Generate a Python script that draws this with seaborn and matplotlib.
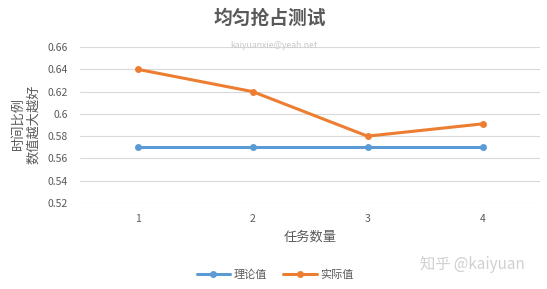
import matplotlib
matplotlib.use("Agg")
import matplotlib.pyplot as plt
import seaborn as sns
import pandas as pd
from matplotlib.lines import Line2D

tasks = [1, 2, 3, 4]
theory = [0.57, 0.57, 0.57, 0.57]
actual = [0.64, 0.62, 0.58, 0.591]
series_names = ["理论值", "实际值"]
yticks = [0.52, 0.54, 0.56, 0.58, 0.6, 0.62, 0.64, 0.66]
ytick_labels = ["0.52", "0.54", "0.56", "0.58", "0.6", "0.62", "0.64", "0.66"]

df = pd.DataFrame({
    "任务数量": tasks * 2,
    "值": theory + actual,
    "系列": [series_names[0]] * 4 + [series_names[1]] * 4,
})

sns.set_style("white")
plt.rcParams['font.family'] = ['Noto Sans CJK SC', 'DejaVu Sans']

fig = plt.figure(figsize=(5.47, 2.89), dpi=100)
ax = fig.add_axes([80/547, 1-203/289, 460/547, 156/289])

palette = {"理论值": "#5B9BD5", "实际值": "#ED7D31"}
sns.lineplot(data=df, x="任务数量", y="值", hue="系列", palette=palette,
             marker="o", markersize=5, markeredgewidth=0, linewidth=2.2,
             ax=ax, legend=False)

ax.set_xlim(0.5, 4.5)
ax.set_ylim(0.52, 0.66)
ax.set_xticks(tasks)
ax.set_xticklabels([str(t) for t in tasks])
ax.set_yticks(yticks)
ax.set_yticklabels(ytick_labels)
ax.grid(axis="y", color="#D9D9D9", linewidth=0.8)
ax.set_axisbelow(True)
for s in ax.spines.values():
    s.set_visible(False)
ax.tick_params(axis="both", length=0, labelsize=7.5, colors="#595959")
ax.tick_params(axis="y", pad=9)
ax.tick_params(axis="x", pad=8)

ax.set_xlabel("任务数量", fontsize=9.5, color="#595959", labelpad=5)
ax.set_ylabel("")
fig.text(26/547, 1 - 124/289, "时间比例\n数值越大越好", rotation=90, ha="center", va="center",
         fontsize=9.5, color="#595959", linespacing=1.3, multialignment="center")

fig.text(270/547, 1 - 18/289, "均匀抢占测试", ha="center", va="center",
         fontsize=13.5, color="#595959", fontweight="bold")
fig.text(274/547, 1 - 46/289, "kaiyuanxie@yeah.net", ha="center", va="center",
         fontsize=6.3, color="#C8C8C8")
fig.text(472/547, 1 - 264/289, "知乎 @kaiyuan", ha="center", va="center",
         fontsize=11, color="#D0D0D0")

handles = [Line2D([], [], color=palette[n], marker="o", markersize=5, markeredgewidth=0, linewidth=2.2)
           for n in series_names]
fig.legend(handles, series_names, loc="center", bbox_to_anchor=(275/547, 1 - 275/289),
           ncol=2, frameon=False, fontsize=8, handlelength=3, columnspacing=1.5,
           handletextpad=0.3, labelcolor="#595959")

fig.savefig("out.png", dpi=100)
